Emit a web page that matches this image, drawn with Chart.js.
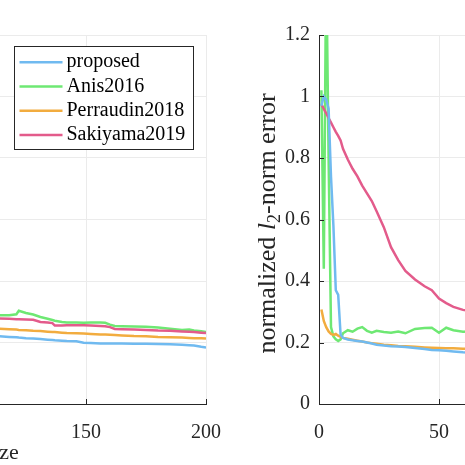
<!DOCTYPE html>
<html>
<head>
<meta charset="utf-8">
<script src="https://cdn.jsdelivr.net/npm/chart.js@4.4.1/dist/chart.umd.min.js"></script>
<style>
  html, body { margin: 0; padding: 0; background: #fff; }
  body { position: relative; width: 465px; height: 465px; overflow: hidden; }
  #leftBox { position: absolute; left: -340px; top: 0; width: 600px; height: 500px; }
  #rightBox { position: absolute; left: 249px; top: 0; width: 600px; height: 500px; }
</style>
</head>
<body>
<div id="leftBox"><canvas id="size-plot" width="600" height="500"></canvas></div>
<div id="rightBox"><canvas id="error-plot" width="600" height="500"></canvas></div>
<script>
// Series names and axis ticks
const seriesNames = ["proposed", "Anis2016", "Perraudin2018", "Sakiyama2019"];
const xTicks = [0, 50, 100, 150, 200];
const yTicks = [0, 0.2, 0.4, 0.6, 0.8, 1, 1.2];

// Left panel (only the right part is visible)
const leftSize = [110, 114, 118, 121, 122, 125, 128, 131, 134, 136, 137, 140, 142, 146, 149, 152, 156, 158, 160, 162, 165, 170, 175, 180, 185, 190, 193, 195, 198, 200];
const leftProposed = [0.222, 0.220, 0.218, 0.217, 0.216, 0.214, 0.213, 0.211, 0.209, 0.208, 0.207, 0.206, 0.205, 0.204, 0.199, 0.198, 0.197, 0.197, 0.197, 0.197, 0.197, 0.196, 0.196, 0.195, 0.194, 0.193, 0.191, 0.190, 0.186, 0.184];
const leftAnis = [0.288, 0.289, 0.289, 0.292, 0.303, 0.296, 0.291, 0.283, 0.277, 0.273, 0.271, 0.267, 0.265, 0.265, 0.264, 0.265, 0.265, 0.264, 0.258, 0.254, 0.253, 0.252, 0.251, 0.249, 0.245, 0.241, 0.242, 0.239, 0.237, 0.234];
const leftPerraudin = [0.247, 0.245, 0.243, 0.242, 0.241, 0.240, 0.238, 0.237, 0.235, 0.234, 0.234, 0.232, 0.231, 0.230, 0.229, 0.228, 0.226, 0.226, 0.225, 0.224, 0.223, 0.221, 0.220, 0.218, 0.217, 0.216, 0.215, 0.214, 0.214, 0.213];
const leftSakiyama = [0.279, 0.278, 0.277, 0.276, 0.276, 0.275, 0.274, 0.267, 0.265, 0.263, 0.255, 0.255, 0.256, 0.256, 0.256, 0.255, 0.254, 0.253, 0.250, 0.244, 0.243, 0.242, 0.241, 0.239, 0.238, 0.236, 0.235, 0.234, 0.232, 0.231];

// Right panel (only the left part is visible)
const rightSize = [1, 2, 3, 4, 5, 6, 7, 8, 9, 10, 12, 14, 16, 18, 20, 22, 24, 27, 30, 33, 36, 40, 44, 47, 50, 53, 56, 60, 63];
const rightProposed = [0.97, 1.0, 0.99, 0.96, 0.74, 0.58, 0.37, 0.355, 0.225, 0.215, 0.21, 0.207, 0.205, 0.203, 0.200, 0.197, 0.193, 0.190, 0.188, 0.187, 0.185, 0.182, 0.179, 0.176, 0.175, 0.173, 0.171, 0.168, 0.167];
const rightAnis = [1.02, 0.44, 1.45, 0.80, 0.25, 0.22, 0.21, 0.205, 0.21, 0.23, 0.24, 0.235, 0.245, 0.25, 0.238, 0.232, 0.238, 0.234, 0.232, 0.236, 0.230, 0.244, 0.247, 0.248, 0.232, 0.248, 0.240, 0.235, 0.236];
const rightPerraudin = [0.307, 0.27, 0.25, 0.236, 0.228, 0.225, 0.228, 0.222, 0.218, 0.215, 0.212, 0.209, 0.206, 0.203, 0.200, 0.198, 0.196, 0.193, 0.191, 0.189, 0.188, 0.186, 0.184, 0.183, 0.182, 0.181, 0.181, 0.180, 0.180];
const rightSakiyama = [0.975, 0.96, 0.945, 0.93, 0.915, 0.90, 0.885, 0.872, 0.857, 0.83, 0.795, 0.765, 0.74, 0.71, 0.685, 0.66, 0.627, 0.575, 0.51, 0.468, 0.433, 0.405, 0.383, 0.37, 0.343, 0.328, 0.316, 0.306, 0.302];

// Styles
const FONT = "'Liberation Serif', 'Times New Roman', serif";
const AXIS_COLOR = "#262626";
const GRID_COLOR = "#ebebeb";
const lineColors = ["#70baf0", "#6ee873", "#f2ac3f", "#e35b8b"];
const drawOrder = [0, 3, 2, 1];

function buildDatasets(xs, ysList) {
    return ysList.map(function (ys, i) {
        return {
            label: seriesNames[i],
            data: xs.map(function (x, j) { return { x: x, y: ys[j] }; }),
            borderColor: lineColors[i],
            backgroundColor: lineColors[i],
            borderWidth: 2.5,
            pointRadius: 0,
            tension: 0,
            order: drawOrder[i]
        };
    });
}

// MATLAB style ticks pointing into the axes
const inwardTicks = {
    id: "inwardTicks",
    afterDatasetsDraw: function (chart) {
        const ctx = chart.ctx, area = chart.chartArea, sx = chart.scales.x, sy = chart.scales.y;
        ctx.save();
        ctx.strokeStyle = AXIS_COLOR;
        ctx.lineWidth = 1;
        ctx.beginPath();
        xTicks.forEach(function (v) {
            const px = Math.round(sx.getPixelForValue(v)) + 0.5;
            ctx.moveTo(px, area.bottom);
            ctx.lineTo(px, area.bottom - 5);
        });
        yTicks.forEach(function (v) {
            const py = Math.round(sy.getPixelForValue(v)) + 0.5;
            ctx.moveTo(area.left, py);
            ctx.lineTo(area.left + 5, py);
        });
        ctx.stroke();
        ctx.restore();
    }
};

// Legend box in the upper right of the left panel
const legendBox = {
    id: "legendBox",
    afterDraw: function (chart) {
        const ctx = chart.ctx, area = chart.chartArea, sets = chart.data.datasets;
        ctx.save();
        ctx.font = "20px " + FONT;
        let maxW = 0;
        sets.forEach(function (d) { maxW = Math.max(maxW, ctx.measureText(d.label).width); });
        const w = Math.round(52 + maxW + 8), h = 103;
        const left = Math.round(area.right - 192) + 0.5, top = Math.round(area.top + 11) + 0.5;
        ctx.fillStyle = "#fff";
        ctx.fillRect(left, top, w, h);
        ctx.strokeStyle = AXIS_COLOR;
        ctx.lineWidth = 1;
        ctx.strokeRect(left, top, w, h);
        sets.forEach(function (d, i) {
            const y = top + 15.7 + 24.3 * i;
            ctx.strokeStyle = d.borderColor;
            ctx.lineWidth = 2.5;
            ctx.beginPath();
            ctx.moveTo(left + 5, y);
            ctx.lineTo(left + 48, y);
            ctx.stroke();
            ctx.fillStyle = "#000";
            ctx.textBaseline = "middle";
            ctx.fillText(d.label, left + 52, y);
        });
        ctx.restore();
    }
};

// y label with italic l and subscript 2
const errorLabel = {
    id: "errorLabel",
    afterDraw: function (chart) {
        const ctx = chart.ctx, area = chart.chartArea;
        const parts = [
            ["normalized ", "26px " + FONT, 0],
            ["l", "italic 26px " + FONT, 0],
            ["2", "18px " + FONT, 5],
            ["-norm error", "26px " + FONT, 0]
        ];
        ctx.save();
        let total = 0;
        const widths = parts.map(function (p) {
            ctx.font = p[1];
            const wd = ctx.measureText(p[0]).width;
            total += wd;
            return wd;
        });
        ctx.translate(area.left - 44, (area.top + area.bottom) / 2 + 4);
        ctx.rotate(-Math.PI / 2);
        ctx.fillStyle = AXIS_COLOR;
        ctx.textBaseline = "alphabetic";
        ctx.textAlign = "left";
        let x = -total / 2;
        parts.forEach(function (p, i) {
            ctx.font = p[1];
            ctx.fillText(p[0], x, p[2]);
            x += widths[i];
        });
        ctx.restore();
    }
};

function axisOptions(yWidth, xTitle) {
    return {
        x: {
            type: "linear",
            min: 0,
            max: 200,
            afterBuildTicks: function (scale) { scale.ticks = xTicks.map(function (v) { return { value: v }; }); },
            afterFit: function (scale) { scale.height = 96; },
            grid: { color: GRID_COLOR, drawTicks: false },
            border: { display: true, color: AXIS_COLOR, width: 1 },
            ticks: {
                padding: 17,
                color: AXIS_COLOR,
                font: { family: FONT, size: 20 },
                maxRotation: 0,
                callback: function (v) { return String(v); }
            },
            title: {
                display: !!xTitle,
                text: xTitle || "",
                color: AXIS_COLOR,
                font: { family: FONT, size: 22 },
                padding: { top: 0, bottom: 34 }
            }
        },
        y: {
            min: 0,
            max: 1.2,
            afterBuildTicks: function (scale) { scale.ticks = yTicks.map(function (v) { return { value: v }; }); },
            afterFit: function (scale) { scale.width = yWidth; },
            grid: { color: GRID_COLOR, drawTicks: false },
            border: { display: true, color: AXIS_COLOR, width: 1 },
            ticks: {
                padding: 9,
                color: AXIS_COLOR,
                font: { family: FONT, size: 20 },
                callback: function (v) { return String(Math.round(v * 10) / 10); }
            }
        }
    };
}

// Left panel: error vs sample size
var ctx1 = document.getElementById("size-plot").getContext("2d");
new Chart(ctx1, {
    type: "line",
    data: { datasets: buildDatasets(leftSize, [leftProposed, leftAnis, leftPerraudin, leftSakiyama]) },
    options: {
        responsive: false,
        animation: false,
        layout: { padding: { left: 0, right: 54, top: 35, bottom: 0 } },
        plugins: { legend: { display: false }, tooltip: { enabled: false } },
        scales: axisOptions(66, "Sample size")
    },
    plugins: [inwardTicks, legendBox]
});

// Right panel: normalized l2-norm error
var ctx2 = document.getElementById("error-plot").getContext("2d");
new Chart(ctx2, {
    type: "line",
    data: { datasets: buildDatasets(rightSize, [rightProposed, rightAnis, rightPerraudin, rightSakiyama]) },
    options: {
        responsive: false,
        animation: false,
        layout: { padding: { left: 0, right: 50, top: 35, bottom: 0 } },
        plugins: { legend: { display: false }, tooltip: { enabled: false } },
        scales: axisOptions(70, "")
    },
    plugins: [inwardTicks, errorLabel]
});
</script>
</body>
</html>
